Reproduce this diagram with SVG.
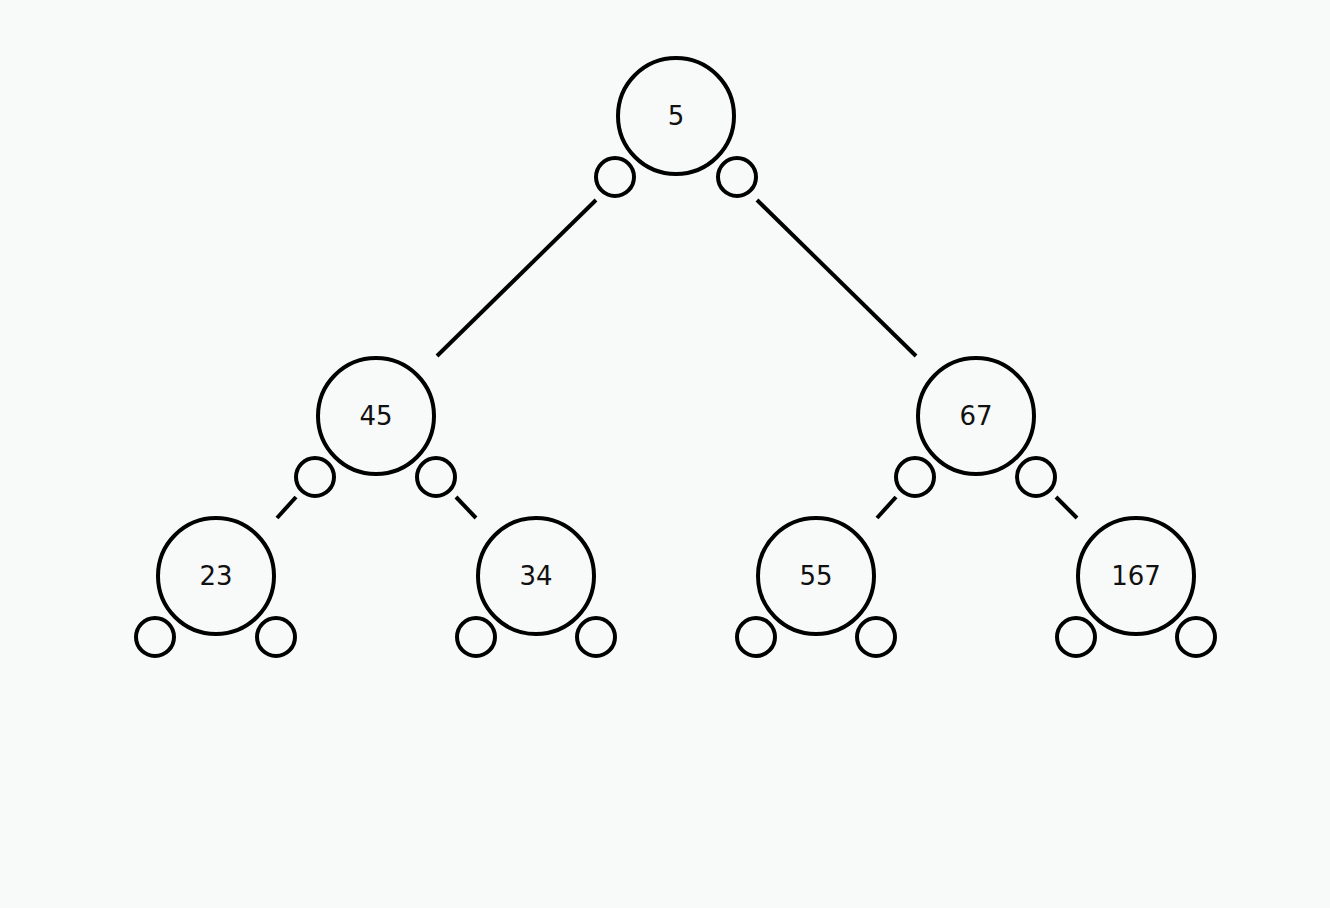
<svg xmlns="http://www.w3.org/2000/svg" width="1330" height="908" viewBox="0 0 1330 908">
<style>
.n{fill:none;stroke:#000;stroke-width:4}
.p{fill:none;stroke:#000;stroke-width:4}
.e{stroke:#000;stroke-width:4;fill:none}
text{font-family:"DejaVu Sans",sans-serif;font-size:26px;text-anchor:middle;dominant-baseline:central;fill:#111}
</style>
<rect width="1330" height="908" fill="#f8f9f9"/>
<g id="connectors">
<line class="e" x1="596" y1="200" x2="437" y2="356"/>
<line class="e" x1="757" y1="200" x2="916" y2="356"/>
<line class="e" x1="296" y1="497" x2="277" y2="518"/>
<line class="e" x1="456" y1="497" x2="476" y2="518"/>
<line class="e" x1="896" y1="497" x2="877" y2="518"/>
<line class="e" x1="1056" y1="497" x2="1077" y2="518"/>
</g>
<g id="n5"><circle class="n" cx="676" cy="116" r="58"/><circle class="p" cx="615" cy="177" r="19"/><circle class="p" cx="737" cy="177" r="19"/><text x="676" y="116">5</text></g>
<g id="n45"><circle class="n" cx="376" cy="416" r="58"/><circle class="p" cx="315" cy="477" r="19"/><circle class="p" cx="436" cy="477" r="19"/><text x="376" y="416">45</text></g>
<g id="n67"><circle class="n" cx="976" cy="416" r="58"/><circle class="p" cx="915" cy="477" r="19"/><circle class="p" cx="1036" cy="477" r="19"/><text x="976" y="416">67</text></g>
<g id="n23"><circle class="n" cx="216" cy="576" r="58"/><circle class="p" cx="155" cy="637" r="19"/><circle class="p" cx="276" cy="637" r="19"/><text x="216" y="576">23</text></g>
<g id="n34"><circle class="n" cx="536" cy="576" r="58"/><circle class="p" cx="476" cy="637" r="19"/><circle class="p" cx="596" cy="637" r="19"/><text x="536" y="576">34</text></g>
<g id="n55"><circle class="n" cx="816" cy="576" r="58"/><circle class="p" cx="756" cy="637" r="19"/><circle class="p" cx="876" cy="637" r="19"/><text x="816" y="576">55</text></g>
<g id="n167"><circle class="n" cx="1136" cy="576" r="58"/><circle class="p" cx="1076" cy="637" r="19"/><circle class="p" cx="1196" cy="637" r="19"/><text x="1136" y="576">167</text></g>
</svg>
